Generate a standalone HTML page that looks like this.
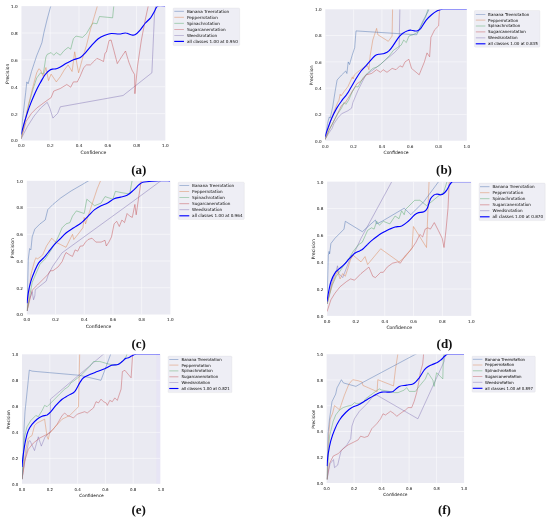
<!DOCTYPE html>
<html><head><meta charset="utf-8"><title>Precision-confidence curves</title>
<style>html,body{margin:0;padding:0;background:#fff}body{width:550px;height:521px;overflow:hidden}</style></head>
<body>
<svg width="550" height="521" viewBox="0 0 550 521" style="display:block">
<rect width="550" height="521" fill="#fff"/>
<defs>
<clipPath id="cpa"><rect x="21.45" y="6.40" width="143.90" height="134.10"/></clipPath>
<clipPath id="cga"><rect x="21.45" y="6.1" width="143.90" height="134.40"/></clipPath>
<clipPath id="cpb"><rect x="325.3" y="9.60" width="141.50" height="131.10"/></clipPath>
<clipPath id="cgb"><rect x="325.3" y="9.3" width="141.50" height="131.40"/></clipPath>
<clipPath id="cpc"><rect x="26.8" y="181.10" width="143.60" height="133.40"/></clipPath>
<clipPath id="cgc"><rect x="26.8" y="180.8" width="143.60" height="133.70"/></clipPath>
<clipPath id="cpd"><rect x="327.1" y="181.90" width="144.15" height="134.00"/></clipPath>
<clipPath id="cgd"><rect x="327.1" y="181.6" width="144.15" height="134.30"/></clipPath>
<clipPath id="cpe"><rect x="22.0" y="354.60" width="138.20" height="129.15"/></clipPath>
<clipPath id="cge"><rect x="22.0" y="354.3" width="138.20" height="129.45"/></clipPath>
<clipPath id="cpf"><rect x="326.6" y="354.50" width="137.50" height="128.50"/></clipPath>
<clipPath id="cgf"><rect x="326.6" y="354.2" width="137.50" height="128.80"/></clipPath>
</defs>
<g id="panel-a">
<rect x="21.45" y="6.1" width="143.90" height="134.40" fill="#EAEAF2"/>
<path d="M50.23 6.1V140.5M21.45 113.62H165.35M79.01 6.1V140.5M21.45 86.74H165.35M107.79 6.1V140.5M21.45 59.86H165.35M136.57 6.1V140.5M21.45 32.98H165.35" stroke="#fff" stroke-width="0.60" fill="none" opacity="0.85" clip-path="url(#cga)"/>
<g clip-path="url(#cpa)" fill="none" stroke-linejoin="round" stroke-linecap="butt">
<path d="M21.0 139.0L27.5 126.4L34.1 116.0L40.6 108.1L47.2 102.3L49.8 108.1L52.9 118.1L57.7 113.3L60.3 106.8L123.1 95.5L151.9 72.8L154.5 13.9L155.8 4.8" stroke="#8172B3" stroke-width="0.50" opacity="0.95"/>
<path d="M21.0 139.0L26.2 121.2L31.5 113.3L36.7 108.1L41.9 104.2L47.2 100.3L51.1 97.6L53.7 91.1L60.3 88.5L66.8 84.5L70.7 87.2L73.4 81.9L77.3 81.9L79.9 76.7L83.8 67.5L86.5 64.9L90.4 64.9L94.3 61.0L96.9 58.4L100.1 59.7L103.5 61.5L105.0 53.1L106.4 52.1L109.0 40.6L111.1 40.0L113.9 50.5L117.3 63.6L121.8 56.5L125.5 51.0L128.9 62.3L132.0 70.1L134.6 74.6L134.9 93.7L137.5 66.2L141.4 40.0L145.4 19.1L148.5 4.8" stroke="#C44E52" stroke-width="0.50" opacity="0.95"/>
<path d="M21.0 139.0L24.9 121.2L28.9 104.2L32.8 89.8L36.7 78.0L40.6 72.8L43.3 74.1L45.9 57.1L47.2 54.4L51.1 52.6L53.7 55.2L56.3 52.6L60.3 55.2L64.2 50.5L68.1 47.4L70.7 49.2L73.4 38.7L76.0 36.1L82.5 37.4L86.5 33.5L90.4 26.9L93.0 23.0L96.9 23.8L99.5 16.5L112.6 17.8L113.9 4.8" stroke="#55A868" stroke-width="0.50" opacity="0.95"/>
<path d="M21.0 139.0L24.9 121.2L28.9 102.9L32.8 87.2L36.7 72.8L38.8 68.8L40.6 70.1L43.3 76.7L45.9 67.5L48.5 80.6L51.1 74.1L56.3 81.9L60.3 76.7L64.2 70.1L68.1 64.9L72.1 71.5L74.7 51.8L78.6 72.8L82.5 58.4L86.5 45.3L90.4 29.6L94.3 16.5L97.7 4.8" stroke="#DD8452" stroke-width="0.50" opacity="0.95"/>
<path d="M21.0 139.0L22.3 121.2L23.6 110.7L25.7 92.4L26.8 81.9L28.1 83.8L29.4 79.3L31.5 71.5L34.1 63.6L36.7 55.7L39.9 47.9L41.9 42.7L44.0 32.2L47.2 19.1L51.1 4.8" stroke="#4C72B0" stroke-width="0.50" opacity="0.95"/>
<path d="M21.0 134.6C21.5 132.7 23.1 127.0 24.1 123.3C25.2 119.6 26.5 115.6 27.5 112.3C28.6 109.0 29.6 106.2 30.7 103.4C31.8 100.6 33.0 97.8 34.1 95.3C35.2 92.8 36.1 90.7 37.2 88.5C38.3 86.3 39.5 84.2 40.6 82.2C41.8 80.1 43.0 77.7 44.0 76.2C45.0 74.6 45.8 73.7 46.7 72.8C47.5 71.8 48.3 71.0 49.3 70.4C50.2 69.8 51.2 69.4 52.4 69.1C53.6 68.8 55.0 69.2 56.3 68.8C57.7 68.5 58.5 68.0 60.3 67.0C62.0 66.0 64.6 64.3 66.8 63.1C69.0 61.9 71.2 60.5 73.4 59.7C75.5 58.8 77.9 58.9 79.9 57.8C81.9 56.7 83.2 55.2 85.1 53.1C87.1 51.0 89.5 47.7 91.7 45.3C93.9 42.9 96.1 40.4 98.2 38.7C100.4 37.1 102.6 36.2 104.8 35.3C107.0 34.5 108.9 33.7 111.3 33.5C113.7 33.3 116.8 34.1 119.2 34.0C121.6 33.9 123.8 32.8 125.7 33.0C127.7 33.1 129.4 34.5 131.0 34.8C132.5 35.1 133.4 35.6 134.9 34.8C136.4 34.0 138.4 32.1 140.1 30.1C141.9 28.1 143.6 25.1 145.4 23.0C147.1 21.0 149.1 19.7 150.6 17.8C152.1 15.8 153.3 13.2 154.5 11.2C155.7 9.3 155.9 7.0 157.7 6.1C159.4 5.2 163.8 6.1 165.0 6.1" stroke="#0000FF" stroke-width="1.15"/>
</g>
<g font-family="'DejaVu Sans','Liberation Sans',sans-serif" font-size="4.19" fill="#262626" opacity="1" text-rendering="geometricPrecision" stroke="#262626" stroke-width="0.40">
<text transform="translate(21.45 147.44) scale(0.1)" font-size="41.9" text-anchor="middle">0.0</text>
<text transform="translate(17.65 142.40) scale(0.1)" font-size="41.9" text-anchor="end">0.0</text>
<text transform="translate(50.23 147.44) scale(0.1)" font-size="41.9" text-anchor="middle">0.2</text>
<text transform="translate(17.65 115.52) scale(0.1)" font-size="41.9" text-anchor="end">0.2</text>
<text transform="translate(79.01 147.44) scale(0.1)" font-size="41.9" text-anchor="middle">0.4</text>
<text transform="translate(17.65 88.64) scale(0.1)" font-size="41.9" text-anchor="end">0.4</text>
<text transform="translate(107.79 147.44) scale(0.1)" font-size="41.9" text-anchor="middle">0.6</text>
<text transform="translate(17.65 61.76) scale(0.1)" font-size="41.9" text-anchor="end">0.6</text>
<text transform="translate(136.57 147.44) scale(0.1)" font-size="41.9" text-anchor="middle">0.8</text>
<text transform="translate(17.65 34.88) scale(0.1)" font-size="41.9" text-anchor="end">0.8</text>
<text transform="translate(165.35 147.44) scale(0.1)" font-size="41.9" text-anchor="middle">1.0</text>
<text transform="translate(17.65 8.00) scale(0.1)" font-size="41.9" text-anchor="end">1.0</text>
<text transform="translate(93.40 154.09) scale(0.1)" font-size="45.7" text-anchor="middle">Confidence</text>
<text transform="translate(8.96 73.80) rotate(-90) scale(0.1)" font-size="45.7" text-anchor="middle">Precision</text>
</g>
<rect x="173.1" y="8.0" width="66.60" height="37.60" rx="1.00" fill="#EAEAF2" fill-opacity="0.8" stroke="#CCCCCC" stroke-opacity="0.5" stroke-width="0.38"/>
<g font-family="'DejaVu Sans','Liberation Sans',sans-serif" font-size="4.19" fill="#262626" text-rendering="geometricPrecision" stroke="#262626" stroke-width="0.40">
<path d="M174.8 11.30H183.4" stroke="#4C72B0" stroke-width="0.50" opacity="0.95" stroke-linecap="square"/>
<text transform="translate(186.90 12.80) scale(0.1)" font-size="41.9">Banana Treerotation</text>
<path d="M174.8 17.30H183.4" stroke="#DD8452" stroke-width="0.50" opacity="0.95" stroke-linecap="square"/>
<text transform="translate(186.90 18.80) scale(0.1)" font-size="41.9">Pepperrotation</text>
<path d="M174.8 23.35H183.4" stroke="#55A868" stroke-width="0.50" opacity="0.95" stroke-linecap="square"/>
<text transform="translate(186.90 24.85) scale(0.1)" font-size="41.9">Spinachrotation</text>
<path d="M174.8 29.40H183.4" stroke="#C44E52" stroke-width="0.50" opacity="0.95" stroke-linecap="square"/>
<text transform="translate(186.90 30.90) scale(0.1)" font-size="41.9">Sugarcanerotation</text>
<path d="M174.8 35.40H183.4" stroke="#8172B3" stroke-width="0.50" opacity="0.95" stroke-linecap="square"/>
<text transform="translate(186.90 36.90) scale(0.1)" font-size="41.9">Weedsrotation</text>
<path d="M174.8 41.40H183.4" stroke="#0000FF" stroke-width="1.15" stroke-linecap="square"/>
<text transform="translate(186.90 42.90) scale(0.1)" font-size="41.9">all classes 1.00 at 0.950</text>
</g>
<text x="138.8" y="174.1" text-anchor="middle" font-family="'Liberation Serif',serif" font-weight="bold" font-size="13" fill="#111">(a)</text>
</g>
<g id="panel-b">
<rect x="325.3" y="9.3" width="141.50" height="131.40" fill="#EAEAF2"/>
<path d="M353.60 9.3V140.7M325.3 114.42H466.8M381.90 9.3V140.7M325.3 88.14H466.8M410.20 9.3V140.7M325.3 61.86H466.8M438.50 9.3V140.7M325.3 35.58H466.8" stroke="#fff" stroke-width="0.59" fill="none" opacity="0.85" clip-path="url(#cgb)"/>
<g clip-path="url(#cpb)" fill="none" stroke-linejoin="round" stroke-linecap="butt">
<path d="M325.0 139.6L328.1 134.2L330.7 130.3L332.0 128.5L333.8 123.9L337.7 118.2L341.5 113.8L348.0 110.7L351.6 108.1L352.9 102.5L358.0 90.3L363.2 80.0L365.8 75.1L371.5 71.0L379.2 65.3L387.0 58.8L394.7 52.4L399.1 47.7L399.9 8.0" stroke="#8172B3" stroke-width="0.49" opacity="0.95"/>
<path d="M325.0 139.6L328.9 130.3L332.7 123.4L341.5 105.6L345.4 102.5L350.6 94.2L356.8 83.9L360.6 81.3L363.2 78.7L366.3 74.8L371.5 73.5L376.6 69.7L380.5 72.3L383.1 69.7L387.0 72.3L392.1 68.4L396.0 69.7L399.9 65.8L402.5 67.1L405.0 61.9L408.9 59.3L411.5 68.4L419.2 74.8L424.4 61.9L427.0 52.9L429.6 56.8L430.9 37.4L434.7 29.7L438.6 25.8L439.4 9.3L439.9 8.0" stroke="#C44E52" stroke-width="0.49" opacity="0.95"/>
<path d="M325.0 139.6L329.6 129.1L334.6 119.5L337.7 113.8L341.5 108.1L344.1 102.5L345.9 104.3L348.5 100.4L352.4 91.6L355.5 86.5L358.0 87.0L363.2 77.7L367.6 73.0L372.8 68.4L376.6 67.1L380.5 64.5L385.7 59.3L389.5 55.5L393.4 50.3L397.3 47.7L401.2 45.1L403.7 40.0L406.3 42.6L408.9 36.1L412.8 34.8L417.9 32.2L421.8 24.5L425.7 16.7L428.3 8.0" stroke="#55A868" stroke-width="0.49" opacity="0.95"/>
<path d="M325.0 139.6L328.9 126.5L332.7 114.9L337.7 102.5L338.9 100.4L340.2 94.2L341.0 96.0L344.1 91.6L348.0 86.5L352.4 76.9L353.1 79.0L354.2 75.1L357.3 72.3L362.4 68.4L367.6 65.8L368.9 69.7L370.2 55.5L372.8 40.0L376.6 28.4L377.9 34.8L388.3 41.3L392.1 36.1L392.6 8.0" stroke="#DD8452" stroke-width="0.49" opacity="0.95"/>
<path d="M325.0 139.6L327.6 123.4L328.9 118.2L329.4 116.9L330.2 118.2L332.7 106.9L335.1 91.6L337.1 80.0L341.5 75.1L345.7 71.0L346.9 73.5L348.2 61.9L349.5 64.5L352.1 55.5L354.7 47.7L356.0 30.9L416.7 34.8L418.5 30.9L423.1 20.6L428.3 11.1L429.3 8.0" stroke="#4C72B0" stroke-width="0.49" opacity="0.95"/>
<path d="M325.0 136.8C325.4 135.5 326.5 132.1 327.6 129.1C328.7 126.0 329.9 122.2 331.5 118.7C333.0 115.3 334.9 111.4 336.6 108.4C338.3 105.4 340.1 103.0 341.8 100.7C343.5 98.3 345.4 96.4 346.9 94.2C348.5 92.0 349.3 90.3 350.8 87.7C352.3 85.2 354.3 81.5 356.0 78.7C357.7 75.9 359.4 73.2 361.1 71.0C362.9 68.7 364.6 67.2 366.3 65.3C368.0 63.3 370.0 61.0 371.5 59.3C373.0 57.7 374.1 56.3 375.3 55.5C376.6 54.6 377.7 54.5 379.2 54.2C380.7 53.8 382.7 54.1 384.4 53.4C386.1 52.8 388.0 51.7 389.5 50.3C391.1 48.9 391.9 47.3 393.4 45.1C394.9 43.0 397.1 39.3 398.6 37.4C400.1 35.5 400.9 34.6 402.5 33.5C404.0 32.4 406.1 31.2 407.6 30.7C409.1 30.1 410.4 30.1 411.5 30.2C412.6 30.2 413.2 30.9 414.3 30.9C415.4 31.0 417.1 30.9 418.2 30.4C419.3 30.0 419.5 30.1 420.8 28.4C422.1 26.6 424.4 22.4 426.2 20.1C428.0 17.8 429.8 16.2 431.6 14.7C433.5 13.1 435.7 11.7 437.3 10.8C438.9 9.9 440.2 9.8 441.2 9.5C442.2 9.3 442.4 9.3 443.2 9.3C444.1 9.3 442.4 9.3 446.3 9.3C450.3 9.3 463.6 9.3 467.0 9.3" stroke="#0000FF" stroke-width="1.13"/>
</g>
<g font-family="'DejaVu Sans','Liberation Sans',sans-serif" font-size="4.09" fill="#262626" opacity="1" text-rendering="geometricPrecision" stroke="#262626" stroke-width="0.40">
<text transform="translate(325.30 147.82) scale(0.1)" font-size="40.9" text-anchor="middle">0.0</text>
<text transform="translate(321.57 142.57) scale(0.1)" font-size="40.9" text-anchor="end">0.0</text>
<text transform="translate(353.60 147.82) scale(0.1)" font-size="40.9" text-anchor="middle">0.2</text>
<text transform="translate(321.57 116.29) scale(0.1)" font-size="40.9" text-anchor="end">0.2</text>
<text transform="translate(381.90 147.82) scale(0.1)" font-size="40.9" text-anchor="middle">0.4</text>
<text transform="translate(321.57 90.01) scale(0.1)" font-size="40.9" text-anchor="end">0.4</text>
<text transform="translate(410.20 147.82) scale(0.1)" font-size="40.9" text-anchor="middle">0.6</text>
<text transform="translate(321.57 63.73) scale(0.1)" font-size="40.9" text-anchor="end">0.6</text>
<text transform="translate(438.50 147.82) scale(0.1)" font-size="40.9" text-anchor="middle">0.8</text>
<text transform="translate(321.57 37.45) scale(0.1)" font-size="40.9" text-anchor="end">0.8</text>
<text transform="translate(466.80 147.82) scale(0.1)" font-size="40.9" text-anchor="middle">1.0</text>
<text transform="translate(321.57 11.17) scale(0.1)" font-size="40.9" text-anchor="end">1.0</text>
<text transform="translate(396.05 154.36) scale(0.1)" font-size="44.6" text-anchor="middle">Confidence</text>
<text transform="translate(313.02 75.49) rotate(-90) scale(0.1)" font-size="44.6" text-anchor="middle">Precision</text>
</g>
<rect x="474.4" y="10.45" width="65.60" height="36.70" rx="0.98" fill="#EAEAF2" fill-opacity="0.8" stroke="#CCCCCC" stroke-opacity="0.5" stroke-width="0.37"/>
<g font-family="'DejaVu Sans','Liberation Sans',sans-serif" font-size="4.09" fill="#262626" text-rendering="geometricPrecision" stroke="#262626" stroke-width="0.40">
<path d="M476.3 14.35H484.9" stroke="#4C72B0" stroke-width="0.49" opacity="0.95" stroke-linecap="square"/>
<text transform="translate(488.10 15.82) scale(0.1)" font-size="40.9">Banana Treerotation</text>
<path d="M476.3 20.10H484.9" stroke="#DD8452" stroke-width="0.49" opacity="0.95" stroke-linecap="square"/>
<text transform="translate(488.10 21.57) scale(0.1)" font-size="40.9">Pepperrotation</text>
<path d="M476.3 26.00H484.9" stroke="#55A868" stroke-width="0.49" opacity="0.95" stroke-linecap="square"/>
<text transform="translate(488.10 27.47) scale(0.1)" font-size="40.9">Spinachrotation</text>
<path d="M476.3 31.90H484.9" stroke="#C44E52" stroke-width="0.49" opacity="0.95" stroke-linecap="square"/>
<text transform="translate(488.10 33.37) scale(0.1)" font-size="40.9">Sugarcanerotation</text>
<path d="M476.3 37.85H484.9" stroke="#8172B3" stroke-width="0.49" opacity="0.95" stroke-linecap="square"/>
<text transform="translate(488.10 39.32) scale(0.1)" font-size="40.9">Weedsrotation</text>
<path d="M476.3 43.80H484.9" stroke="#0000FF" stroke-width="1.13" stroke-linecap="square"/>
<text transform="translate(488.10 45.27) scale(0.1)" font-size="40.9">all classes 1.00 at 0.835</text>
</g>
<text x="444" y="174.1" text-anchor="middle" font-family="'Liberation Serif',serif" font-weight="bold" font-size="13" fill="#111">(b)</text>
</g>
<g id="panel-c">
<rect x="26.8" y="180.8" width="143.60" height="133.70" fill="#EAEAF2"/>
<path d="M55.52 180.8V314.5M26.8 287.76H170.4M84.24 180.8V314.5M26.8 261.02H170.4M112.96 180.8V314.5M26.8 234.28H170.4M141.68 180.8V314.5M26.8 207.54H170.4" stroke="#fff" stroke-width="0.60" fill="none" opacity="0.85" clip-path="url(#cgc)"/>
<g clip-path="url(#cpc)" fill="none" stroke-linejoin="round" stroke-linecap="butt">
<path d="M27.0 311.0L29.1 300.6L32.2 291.5L33.5 299.8L34.8 295.9L35.3 289.7L46.2 281.1L48.3 274.6L52.7 266.3L62.1 252.8L133.1 201.3L160.9 180.8L162.2 179.5" stroke="#8172B3" stroke-width="0.50" opacity="0.95"/>
<path d="M27.0 311.0L32.2 290.2L37.4 285.0L42.6 279.8L47.8 274.6L50.4 270.7L53.0 270.7L58.2 266.8L62.1 261.6L64.7 255.1L66.0 252.5L69.9 255.1L72.5 256.4L75.1 249.9L77.7 251.2L80.3 246.0L82.9 246.0L85.5 242.1L88.1 239.5L92.0 238.2L95.9 242.1L101.1 242.1L105.0 240.3L106.3 246.0L108.9 242.1L111.5 236.9L114.1 223.9L116.7 221.3L119.3 226.5L121.9 220.0L124.5 222.6L127.1 213.5L129.7 216.1L132.3 217.4L134.9 204.4L136.2 214.8L138.8 196.6L141.4 179.5" stroke="#C44E52" stroke-width="0.50" opacity="0.95"/>
<path d="M27.0 311.0L32.2 282.4L36.1 273.3L40.0 264.2L45.2 259.0L50.4 251.2L54.3 244.7L58.2 236.9L62.1 227.8L66.0 223.9L69.9 222.6L72.5 216.1L76.4 210.9L84.2 213.5L86.8 199.2L94.6 205.7L101.1 203.1L105.0 196.6L108.9 197.9L112.8 199.2L115.4 191.4L121.9 192.7L129.7 194.0L132.3 179.5" stroke="#55A868" stroke-width="0.50" opacity="0.95"/>
<path d="M27.0 311.0L30.9 274.6L34.8 260.3L36.1 257.7L37.4 259.0L42.6 255.1L46.5 246.0L49.1 242.1L51.7 238.2L55.6 242.1L60.8 244.7L66.0 247.3L69.9 239.5L72.5 234.3L73.8 239.5L79.0 233.0L82.9 227.8L84.2 217.4L85.5 223.9L89.4 212.2L93.3 200.5L97.2 188.8L101.1 179.5" stroke="#DD8452" stroke-width="0.50" opacity="0.95"/>
<path d="M27.0 311.0L28.3 259.0L29.6 248.6L30.9 249.9L32.2 236.9L34.8 229.1L40.0 223.9L45.2 220.0L47.8 209.6L53.0 204.4L60.8 197.9L71.2 190.9L81.6 184.9L90.7 179.5" stroke="#4C72B0" stroke-width="0.50" opacity="0.95"/>
<path d="M27.0 303.2C27.2 301.5 27.7 296.5 28.3 292.8C28.9 289.1 29.8 284.8 30.9 281.1C32.0 277.4 33.5 273.7 34.8 270.7C36.1 267.7 37.2 265.1 38.7 262.9C40.2 260.7 42.2 259.6 43.9 257.7C45.6 255.8 47.4 253.4 49.1 251.2C50.8 249.0 52.6 246.6 54.3 244.7C56.0 242.8 57.5 241.4 59.5 239.5C61.5 237.6 63.6 234.9 66.0 233.0C68.4 231.1 71.2 229.5 73.8 227.8C76.4 226.1 79.2 224.6 81.6 222.6C84.0 220.6 85.9 218.3 88.1 216.1C90.3 213.9 92.4 211.3 94.6 209.6C96.8 207.9 98.9 206.8 101.1 205.7C103.3 204.6 105.4 204.3 107.6 203.1C109.8 201.9 111.9 199.7 114.1 198.7C116.3 197.7 118.4 197.7 120.6 197.1C122.8 196.6 124.9 196.5 127.1 195.3C129.3 194.1 131.6 191.8 133.6 190.1C135.6 188.4 137.3 186.2 138.8 184.9C140.3 183.6 141.0 182.9 142.7 182.3C144.4 181.7 146.4 181.8 149.2 181.5C152.0 181.3 156.1 180.9 159.6 180.8C163.1 180.7 168.3 180.8 170.0 180.8" stroke="#0000FF" stroke-width="1.15"/>
</g>
<g font-family="'DejaVu Sans','Liberation Sans',sans-serif" font-size="4.15" fill="#262626" opacity="1" text-rendering="geometricPrecision" stroke="#262626" stroke-width="0.40">
<text transform="translate(26.80 321.28) scale(0.1)" font-size="41.5" text-anchor="middle">0.0</text>
<text transform="translate(23.01 316.39) scale(0.1)" font-size="41.5" text-anchor="end">0.0</text>
<text transform="translate(55.52 321.28) scale(0.1)" font-size="41.5" text-anchor="middle">0.2</text>
<text transform="translate(23.01 289.65) scale(0.1)" font-size="41.5" text-anchor="end">0.2</text>
<text transform="translate(84.24 321.28) scale(0.1)" font-size="41.5" text-anchor="middle">0.4</text>
<text transform="translate(23.01 262.91) scale(0.1)" font-size="41.5" text-anchor="end">0.4</text>
<text transform="translate(112.96 321.28) scale(0.1)" font-size="41.5" text-anchor="middle">0.6</text>
<text transform="translate(23.01 236.17) scale(0.1)" font-size="41.5" text-anchor="end">0.6</text>
<text transform="translate(141.68 321.28) scale(0.1)" font-size="41.5" text-anchor="middle">0.8</text>
<text transform="translate(23.01 209.43) scale(0.1)" font-size="41.5" text-anchor="end">0.8</text>
<text transform="translate(170.40 321.28) scale(0.1)" font-size="41.5" text-anchor="middle">1.0</text>
<text transform="translate(23.01 182.69) scale(0.1)" font-size="41.5" text-anchor="end">1.0</text>
<text transform="translate(98.60 327.86) scale(0.1)" font-size="45.3" text-anchor="middle">Confidence</text>
<text transform="translate(14.33 248.15) rotate(-90) scale(0.1)" font-size="45.3" text-anchor="middle">Precision</text>
</g>
<rect x="178.1" y="182.2" width="66.20" height="37.30" rx="1.00" fill="#EAEAF2" fill-opacity="0.8" stroke="#CCCCCC" stroke-opacity="0.5" stroke-width="0.38"/>
<g font-family="'DejaVu Sans','Liberation Sans',sans-serif" font-size="4.15" fill="#262626" text-rendering="geometricPrecision" stroke="#262626" stroke-width="0.40">
<path d="M179.9 185.60H188.7" stroke="#4C72B0" stroke-width="0.50" opacity="0.95" stroke-linecap="square"/>
<text transform="translate(192.10 187.10) scale(0.1)" font-size="41.5">Banana Treerotation</text>
<path d="M179.9 191.55H188.7" stroke="#DD8452" stroke-width="0.50" opacity="0.95" stroke-linecap="square"/>
<text transform="translate(192.10 193.05) scale(0.1)" font-size="41.5">Pepperrotation</text>
<path d="M179.9 197.60H188.7" stroke="#55A868" stroke-width="0.50" opacity="0.95" stroke-linecap="square"/>
<text transform="translate(192.10 199.10) scale(0.1)" font-size="41.5">Spinachrotation</text>
<path d="M179.9 203.70H188.7" stroke="#C44E52" stroke-width="0.50" opacity="0.95" stroke-linecap="square"/>
<text transform="translate(192.10 205.20) scale(0.1)" font-size="41.5">Sugarcanerotation</text>
<path d="M179.9 209.70H188.7" stroke="#8172B3" stroke-width="0.50" opacity="0.95" stroke-linecap="square"/>
<text transform="translate(192.10 211.20) scale(0.1)" font-size="41.5">Weedsrotation</text>
<path d="M179.9 215.80H188.7" stroke="#0000FF" stroke-width="1.15" stroke-linecap="square"/>
<text transform="translate(192.10 217.30) scale(0.1)" font-size="41.5">all classes 1.00 at 0.964</text>
</g>
<text x="138.6" y="348.4" text-anchor="middle" font-family="'Liberation Serif',serif" font-weight="bold" font-size="13" fill="#111">(c)</text>
</g>
<g id="panel-d">
<rect x="327.1" y="181.6" width="144.15" height="134.30" fill="#EAEAF2"/>
<path d="M355.93 181.6V315.9M327.1 289.04H471.25M384.76 181.6V315.9M327.1 262.18H471.25M413.59 181.6V315.9M327.1 235.32H471.25M442.42 181.6V315.9M327.1 208.46H471.25" stroke="#fff" stroke-width="0.60" fill="none" opacity="0.85" clip-path="url(#cgd)"/>
<g clip-path="url(#cpd)" fill="none" stroke-linejoin="round" stroke-linecap="butt">
<path d="M327.0 304.0L332.2 281.5L336.2 271.0L337.5 265.8L338.8 273.6L342.7 277.6L345.3 271.0L349.3 260.5L353.2 255.3L361.0 238.3L392.5 180.3" stroke="#8172B3" stroke-width="0.50" opacity="0.95"/>
<path d="M327.0 311.6L330.9 299.8L334.9 293.3L340.1 286.7L346.6 281.5L350.6 278.9L354.5 280.2L361.0 273.6L368.9 267.1L372.8 276.3L375.4 277.6L380.7 272.3L383.3 272.3L387.2 267.1L392.5 263.2L397.7 261.9L400.3 263.2L405.5 255.3L410.8 250.1L416.0 242.2L419.9 234.4L422.6 237.0L425.2 229.1L427.8 227.8L430.4 229.1L434.3 222.6L438.3 230.4L442.2 238.3L444.0 247.5L446.1 229.1L448.0 208.2L449.3 180.3" stroke="#C44E52" stroke-width="0.50" opacity="0.95"/>
<path d="M327.0 304.0L332.2 285.4L336.2 276.3L340.1 271.0L345.3 263.2L349.3 257.9L353.2 251.4L358.4 244.8L362.3 242.2L367.6 230.4L371.5 227.8L374.1 229.1L376.7 221.3L379.4 225.2L383.3 221.3L389.8 223.9L395.1 216.0L399.0 218.7L401.6 210.8L404.2 214.7L405.5 209.5L414.7 200.3L419.9 200.3L426.5 205.6L431.7 201.6L439.6 195.1L443.5 192.5L446.1 184.6L447.4 180.3" stroke="#55A868" stroke-width="0.50" opacity="0.95"/>
<path d="M327.0 304.0L332.2 284.1L337.5 271.0L340.1 278.9L342.7 273.6L345.3 276.3L347.9 268.4L350.6 259.2L353.2 255.3L361.0 261.9L365.0 256.6L367.6 264.5L380.7 248.8L399.0 261.9L405.5 256.6L412.1 247.5L413.4 226.5L426.5 247.5L427.8 213.4L429.1 180.3" stroke="#DD8452" stroke-width="0.50" opacity="0.95"/>
<path d="M327.0 304.0L328.3 255.3L329.1 251.4L329.6 254.0L330.9 243.5L334.9 238.3L340.1 233.1L344.0 229.1L345.3 221.3L362.3 231.7L375.4 220.0L376.7 223.9L382.0 221.3L404.2 208.2L410.8 214.7L423.9 201.6L439.6 180.3" stroke="#4C72B0" stroke-width="0.50" opacity="0.95"/>
<path d="M327.0 301.4C327.2 300.1 327.7 296.8 328.3 293.5C329.0 290.3 329.8 285.2 330.9 281.8C332.0 278.3 333.5 275.2 334.9 273.1C336.2 271.0 337.3 270.6 338.8 269.2C340.3 267.8 342.3 266.5 344.0 264.7C345.8 263.0 347.5 260.6 349.3 258.7C351.0 256.8 352.7 254.8 354.5 253.5C356.2 252.2 358.3 251.6 359.7 250.9C361.1 250.1 361.6 250.1 362.9 249.0C364.2 247.9 365.9 245.9 367.6 244.3C369.2 242.7 370.9 241.1 372.8 239.6C374.7 238.1 376.9 236.5 378.8 235.1C380.8 233.8 382.8 232.7 384.6 231.7C386.4 230.7 388.1 229.9 389.8 229.1C391.6 228.3 393.1 227.6 395.1 227.0C397.0 226.5 399.4 226.9 401.6 226.0C403.8 225.0 406.0 223.1 408.2 221.3C410.3 219.4 413.0 216.2 414.7 214.7C416.5 213.3 417.1 213.1 418.6 212.6C420.2 212.2 422.4 212.6 423.9 211.8C425.3 211.1 426.2 210.3 427.3 208.2C428.4 206.0 429.3 201.2 430.4 199.0C431.5 196.8 432.7 195.9 433.8 195.1C434.9 194.3 435.8 194.1 437.0 194.0C438.1 194.0 439.7 195.0 440.9 194.8C442.1 194.7 443.3 193.8 444.3 193.0C445.3 192.2 446.0 191.2 446.9 189.9C447.8 188.5 448.8 186.4 449.5 185.1C450.3 183.9 450.8 183.1 451.4 182.5C451.9 181.9 452.0 181.8 452.7 181.6C453.3 181.4 452.2 181.6 455.3 181.6C458.3 181.6 468.4 181.6 471.0 181.6" stroke="#0000FF" stroke-width="1.15"/>
</g>
<g font-family="'DejaVu Sans','Liberation Sans',sans-serif" font-size="4.17" fill="#262626" opacity="1" text-rendering="geometricPrecision" stroke="#262626" stroke-width="0.40">
<text transform="translate(327.10 323.01) scale(0.1)" font-size="41.7" text-anchor="middle">0.0</text>
<text transform="translate(323.30 317.80) scale(0.1)" font-size="41.7" text-anchor="end">0.0</text>
<text transform="translate(355.93 323.01) scale(0.1)" font-size="41.7" text-anchor="middle">0.2</text>
<text transform="translate(323.30 290.94) scale(0.1)" font-size="41.7" text-anchor="end">0.2</text>
<text transform="translate(384.76 323.01) scale(0.1)" font-size="41.7" text-anchor="middle">0.4</text>
<text transform="translate(323.30 264.08) scale(0.1)" font-size="41.7" text-anchor="end">0.4</text>
<text transform="translate(413.59 323.01) scale(0.1)" font-size="41.7" text-anchor="middle">0.6</text>
<text transform="translate(323.30 237.22) scale(0.1)" font-size="41.7" text-anchor="end">0.6</text>
<text transform="translate(442.42 323.01) scale(0.1)" font-size="41.7" text-anchor="middle">0.8</text>
<text transform="translate(323.30 210.36) scale(0.1)" font-size="41.7" text-anchor="end">0.8</text>
<text transform="translate(471.25 323.01) scale(0.1)" font-size="41.7" text-anchor="middle">1.0</text>
<text transform="translate(323.30 183.50) scale(0.1)" font-size="41.7" text-anchor="end">1.0</text>
<text transform="translate(399.18 328.96) scale(0.1)" font-size="45.5" text-anchor="middle">Confidence</text>
<text transform="translate(314.59 249.25) rotate(-90) scale(0.1)" font-size="45.5" text-anchor="middle">Precision</text>
</g>
<rect x="479" y="183.1" width="66.20" height="37.50" rx="1.00" fill="#EAEAF2" fill-opacity="0.8" stroke="#CCCCCC" stroke-opacity="0.5" stroke-width="0.38"/>
<g font-family="'DejaVu Sans','Liberation Sans',sans-serif" font-size="4.17" fill="#262626" text-rendering="geometricPrecision" stroke="#262626" stroke-width="0.40">
<path d="M480.5 186.70H489" stroke="#4C72B0" stroke-width="0.50" opacity="0.95" stroke-linecap="square"/>
<text transform="translate(492.50 188.20) scale(0.1)" font-size="41.7">Banana Treerotation</text>
<path d="M480.5 192.70H489" stroke="#DD8452" stroke-width="0.50" opacity="0.95" stroke-linecap="square"/>
<text transform="translate(492.50 194.20) scale(0.1)" font-size="41.7">Pepperrotation</text>
<path d="M480.5 198.70H489" stroke="#55A868" stroke-width="0.50" opacity="0.95" stroke-linecap="square"/>
<text transform="translate(492.50 200.20) scale(0.1)" font-size="41.7">Spinachrotation</text>
<path d="M480.5 204.80H489" stroke="#C44E52" stroke-width="0.50" opacity="0.95" stroke-linecap="square"/>
<text transform="translate(492.50 206.30) scale(0.1)" font-size="41.7">Sugarcanerotation</text>
<path d="M480.5 210.70H489" stroke="#8172B3" stroke-width="0.50" opacity="0.95" stroke-linecap="square"/>
<text transform="translate(492.50 212.20) scale(0.1)" font-size="41.7">Weedsrotation</text>
<path d="M480.5 216.80H489" stroke="#0000FF" stroke-width="1.15" stroke-linecap="square"/>
<text transform="translate(492.50 218.30) scale(0.1)" font-size="41.7">all classes 1.00 at 0.870</text>
</g>
<text x="444.5" y="348.4" text-anchor="middle" font-family="'Liberation Serif',serif" font-weight="bold" font-size="13" fill="#111">(d)</text>
</g>
<g id="panel-e">
<rect x="22.0" y="354.3" width="138.20" height="129.45" fill="#EAEAF2"/>
<rect x="156.30" y="354.3" width="3.9" height="129.45" fill="#E6E4F5" opacity="0.8"/>
<path d="M49.80 354.3V484.4M22.0 458.38H161.0M77.60 354.3V484.4M22.0 432.36H161.0M105.40 354.3V484.4M22.0 406.34H161.0M133.20 354.3V484.4M22.0 380.32H161.0" stroke="#fff" stroke-width="0.58" fill="none" opacity="0.85" clip-path="url(#cge)"/>
<g clip-path="url(#cpe)" fill="none" stroke-linejoin="round" stroke-linecap="butt">
<path d="M22.0 479.2L25.8 455.6L28.8 441.3L30.0 440.6L34.5 450.6L38.3 436.8L41.3 446.1L45.1 436.8L48.3 433.8L50.1 433.0L50.4 399.2L53.4 396.7L104.8 353.0" stroke="#8172B3" stroke-width="0.48" opacity="0.95"/>
<path d="M22.0 479.2L24.5 461.9L28.3 449.3L33.3 443.1L39.6 438.1L47.1 434.3L52.1 430.5L57.1 424.3L62.1 415.5L64.7 413.0L67.2 415.5L70.9 416.7L73.4 418.0L77.2 414.2L84.7 411.7L87.2 413.0L93.5 407.9L96.0 401.7L98.5 402.9L101.0 399.2L103.5 401.7L106.1 402.9L107.3 405.4L109.8 400.4L112.3 401.7L114.8 397.9L117.3 400.4L121.1 389.1L122.4 371.6L124.9 370.3L131.1 377.8L132.4 357.8L132.4 353.0" stroke="#C44E52" stroke-width="0.48" opacity="0.95"/>
<path d="M22.0 479.2L24.5 436.8L27.0 426.8L30.8 420.5L35.8 415.5L38.3 416.7L42.1 410.5L44.6 405.4L47.1 406.7L50.9 402.9L54.6 399.2L59.6 394.1L64.7 389.1L68.4 386.6L70.9 382.9L74.7 380.3L81.0 375.3L84.7 371.6L89.7 366.5L93.5 361.5L99.8 361.5L108.6 364.0L116.1 365.3L122.4 361.5L126.1 356.5L127.4 353.0" stroke="#55A868" stroke-width="0.48" opacity="0.95"/>
<path d="M22.0 479.2L25.8 449.3L28.3 438.1L32.0 435.5L34.5 425.5L37.1 423.0L44.6 419.2L47.1 436.8L48.3 439.3L49.6 433.0L62.1 419.2L69.7 415.5L78.5 406.7L79.7 353.0" stroke="#DD8452" stroke-width="0.48" opacity="0.95"/>
<path d="M22.0 479.2L23.0 464.4L24.0 429.3L25.0 411.7L27.8 384.9L29.3 370.1L32.0 371.1L37.1 371.6L79.7 375.3L101.0 380.3L111.1 353.0" stroke="#4C72B0" stroke-width="0.48" opacity="0.95"/>
<path d="M22.0 466.9C22.2 464.8 22.6 459.0 23.3 454.4C23.9 449.8 24.9 443.3 25.8 439.3C26.6 435.3 27.2 433.0 28.3 430.5C29.3 428.0 30.6 426.1 32.0 424.3C33.5 422.4 35.4 420.6 37.1 419.2C38.7 417.9 40.4 416.9 42.1 416.2C43.7 415.5 45.6 415.7 47.1 415.0C48.6 414.2 49.4 413.3 50.9 411.7C52.3 410.1 54.0 407.5 55.9 405.4C57.8 403.3 60.1 400.8 62.1 399.2C64.2 397.5 66.3 396.7 68.4 395.4C70.5 394.1 72.8 393.7 74.7 391.6C76.6 389.5 78.2 385.2 79.7 382.9C81.2 380.6 81.8 379.2 83.5 377.8C85.1 376.5 87.4 375.6 89.7 374.6C92.0 373.5 94.7 372.6 97.3 371.6C99.8 370.6 102.7 369.6 105.1 368.6C107.4 367.5 109.4 366.0 111.6 365.3C113.7 364.6 116.3 365.2 118.1 364.5C119.9 363.9 121.1 362.3 122.4 361.3C123.6 360.3 124.6 359.1 125.6 358.5C126.6 357.9 127.4 358.2 128.4 357.8C129.4 357.3 130.6 356.5 131.6 356.0C132.7 355.5 133.7 354.9 134.4 354.6C135.2 354.3 135.5 354.4 136.2 354.3C136.9 354.2 134.7 354.3 138.7 354.3C142.6 354.3 156.4 354.3 160.0 354.3" stroke="#0000FF" stroke-width="1.11"/>
</g>
<g font-family="'DejaVu Sans','Liberation Sans',sans-serif" font-size="3.98" fill="#262626" opacity="1" text-rendering="geometricPrecision" stroke="#262626" stroke-width="0.40">
<text transform="translate(22.00 491.40) scale(0.1)" font-size="39.8" text-anchor="middle">0.0</text>
<text transform="translate(18.33 486.23) scale(0.1)" font-size="39.8" text-anchor="end">0.0</text>
<text transform="translate(49.80 491.40) scale(0.1)" font-size="39.8" text-anchor="middle">0.2</text>
<text transform="translate(18.33 460.21) scale(0.1)" font-size="39.8" text-anchor="end">0.2</text>
<text transform="translate(77.60 491.40) scale(0.1)" font-size="39.8" text-anchor="middle">0.4</text>
<text transform="translate(18.33 434.19) scale(0.1)" font-size="39.8" text-anchor="end">0.4</text>
<text transform="translate(105.40 491.40) scale(0.1)" font-size="39.8" text-anchor="middle">0.6</text>
<text transform="translate(18.33 408.17) scale(0.1)" font-size="39.8" text-anchor="end">0.6</text>
<text transform="translate(133.20 491.40) scale(0.1)" font-size="39.8" text-anchor="middle">0.8</text>
<text transform="translate(18.33 382.15) scale(0.1)" font-size="39.8" text-anchor="end">0.8</text>
<text transform="translate(161.00 491.40) scale(0.1)" font-size="39.8" text-anchor="middle">1.0</text>
<text transform="translate(18.33 356.13) scale(0.1)" font-size="39.8" text-anchor="end">1.0</text>
<text transform="translate(91.50 496.97) scale(0.1)" font-size="43.4" text-anchor="middle">Confidence</text>
<text transform="translate(9.93 419.83) rotate(-90) scale(0.1)" font-size="43.4" text-anchor="middle">Precision</text>
</g>
<rect x="168" y="356.1" width="64.00" height="36.50" rx="0.97" fill="#EAEAF2" fill-opacity="0.8" stroke="#CCCCCC" stroke-opacity="0.5" stroke-width="0.37"/>
<g font-family="'DejaVu Sans','Liberation Sans',sans-serif" font-size="3.98" fill="#262626" text-rendering="geometricPrecision" stroke="#262626" stroke-width="0.40">
<path d="M169.8 359.50H177.9" stroke="#4C72B0" stroke-width="0.48" opacity="0.95" stroke-linecap="square"/>
<text transform="translate(181.40 360.95) scale(0.1)" font-size="39.8">Banana Treerotation</text>
<path d="M169.8 365.10H177.9" stroke="#DD8452" stroke-width="0.48" opacity="0.95" stroke-linecap="square"/>
<text transform="translate(181.40 366.55) scale(0.1)" font-size="39.8">Pepperrotation</text>
<path d="M169.8 370.90H177.9" stroke="#55A868" stroke-width="0.48" opacity="0.95" stroke-linecap="square"/>
<text transform="translate(181.40 372.35) scale(0.1)" font-size="39.8">Spinachrotation</text>
<path d="M169.8 376.80H177.9" stroke="#C44E52" stroke-width="0.48" opacity="0.95" stroke-linecap="square"/>
<text transform="translate(181.40 378.25) scale(0.1)" font-size="39.8">Sugarcanerotation</text>
<path d="M169.8 382.60H177.9" stroke="#8172B3" stroke-width="0.48" opacity="0.95" stroke-linecap="square"/>
<text transform="translate(181.40 384.05) scale(0.1)" font-size="39.8">Weedsrotation</text>
<path d="M169.8 388.50H177.9" stroke="#0000FF" stroke-width="1.11" stroke-linecap="square"/>
<text transform="translate(181.40 389.95) scale(0.1)" font-size="39.8">all classes 1.00 at 0.821</text>
</g>
<text x="138.6" y="514.4" text-anchor="middle" font-family="'Liberation Serif',serif" font-weight="bold" font-size="13" fill="#111">(e)</text>
</g>
<g id="panel-f">
<rect x="326.6" y="354.2" width="137.50" height="128.80" fill="#EAEAF2"/>
<path d="M354.10 354.2V483.0M326.6 457.24H464.1M381.60 354.2V483.0M326.6 431.48H464.1M409.10 354.2V483.0M326.6 405.72H464.1M436.60 354.2V483.0M326.6 379.96H464.1" stroke="#fff" stroke-width="0.57" fill="none" opacity="0.85" clip-path="url(#cgf)"/>
<g clip-path="url(#cpf)" fill="none" stroke-linejoin="round" stroke-linecap="butt">
<path d="M327.0 479.5L330.0 463.8L333.5 459.6L334.5 467.6L337.7 465.1L339.7 456.4L341.2 450.6L346.9 444.9L350.7 438.7L351.9 426.2L354.4 418.8L359.4 411.3L366.9 403.8L373.1 396.3L376.8 395.1L417.9 418.8L444.1 361.5L445.3 353.0" stroke="#8172B3" stroke-width="0.48" opacity="0.95"/>
<path d="M327.0 479.5L329.5 463.6L333.2 456.1L338.2 453.6L343.2 448.7L348.2 444.9L353.2 442.4L358.1 439.9L360.6 436.2L364.4 437.4L368.1 436.2L371.8 428.7L376.8 423.7L380.6 418.8L383.0 413.8L385.5 415.0L390.5 411.3L394.3 413.8L396.7 416.3L401.7 412.5L405.5 410.0L408.0 407.6L411.7 407.6L414.2 401.3L416.7 392.6L418.7 382.6L420.4 372.2L422.7 364.0L423.4 356.5L423.6 353.0" stroke="#C44E52" stroke-width="0.48" opacity="0.95"/>
<path d="M327.0 479.5L329.5 436.2L333.2 421.3L335.7 415.0L339.5 410.0L343.2 407.6L346.9 406.3L351.9 405.1L354.4 402.6L356.9 403.8L363.1 402.6L365.6 398.8L370.6 395.1L375.6 391.4L379.3 388.9L381.8 390.1L389.3 391.4L394.3 392.6L398.0 392.6L404.2 390.1L406.7 387.6L409.2 391.4L415.4 391.4L419.2 386.4L425.4 378.9L427.9 372.7L432.9 380.2L434.1 386.4L436.6 372.7L442.8 378.9L443.3 359.0L444.1 353.0" stroke="#55A868" stroke-width="0.48" opacity="0.95"/>
<path d="M327.0 479.5L328.5 436.2L330.2 419.0L332.7 413.0L334.5 405.6L339.5 409.8L341.9 402.6L344.4 395.3L348.9 384.1L352.7 379.7L358.1 380.7L362.1 382.1L362.9 385.4L377.1 391.6L377.8 379.7L393.5 385.9L395.5 368.9L398.0 353.0" stroke="#DD8452" stroke-width="0.48" opacity="0.95"/>
<path d="M327.0 479.5L328.0 433.7L329.5 419.0L332.0 401.6L335.7 394.1L337.0 387.9L341.4 379.7L343.4 382.9L355.9 386.4L363.4 382.1L396.0 364.7L417.9 353.0" stroke="#4C72B0" stroke-width="0.48" opacity="0.95"/>
<path d="M327.0 466.1C327.2 464.0 327.6 457.8 328.2 453.6C328.9 449.5 329.7 445.1 330.7 441.2C331.8 437.2 333.0 433.5 334.5 430.0C335.9 426.4 337.6 422.9 339.5 420.0C341.3 417.1 343.6 414.6 345.7 412.5C347.8 410.5 349.8 408.8 351.9 407.6C354.0 406.3 356.1 406.1 358.1 405.1C360.2 404.0 362.3 402.6 364.4 401.3C366.4 400.1 368.5 398.8 370.6 397.6C372.7 396.3 374.9 394.8 376.8 393.9C378.7 392.9 379.9 392.4 381.8 392.1C383.7 391.8 386.2 392.2 388.0 392.1C389.9 392.0 391.1 392.3 393.0 391.4C394.9 390.4 397.0 387.4 399.2 386.4C401.5 385.3 404.4 385.6 406.7 385.1C409.0 384.7 411.4 384.5 412.9 383.9C414.5 383.3 415.1 382.4 416.2 381.4C417.2 380.4 417.8 379.8 419.2 377.9C420.5 376.0 422.8 372.0 424.1 370.2C425.5 368.4 426.1 367.9 427.4 367.0C428.7 366.0 430.2 365.5 431.9 364.7C433.5 364.0 435.8 363.3 437.3 362.5C438.9 361.6 440.0 360.6 441.1 359.7C442.2 358.8 443.0 357.8 443.8 357.0C444.7 356.2 445.6 355.2 446.3 354.7C447.0 354.3 447.4 354.3 448.1 354.2C448.7 354.1 447.6 354.2 450.3 354.2C453.0 354.2 461.7 354.2 464.0 354.2" stroke="#0000FF" stroke-width="1.10"/>
</g>
<g font-family="'DejaVu Sans','Liberation Sans',sans-serif" font-size="3.95" fill="#262626" opacity="1" text-rendering="geometricPrecision" stroke="#262626" stroke-width="0.40">
<text transform="translate(326.60 489.62) scale(0.1)" font-size="39.5" text-anchor="middle">0.0</text>
<text transform="translate(322.97 484.81) scale(0.1)" font-size="39.5" text-anchor="end">0.0</text>
<text transform="translate(354.10 489.62) scale(0.1)" font-size="39.5" text-anchor="middle">0.2</text>
<text transform="translate(322.97 459.05) scale(0.1)" font-size="39.5" text-anchor="end">0.2</text>
<text transform="translate(381.60 489.62) scale(0.1)" font-size="39.5" text-anchor="middle">0.4</text>
<text transform="translate(322.97 433.29) scale(0.1)" font-size="39.5" text-anchor="end">0.4</text>
<text transform="translate(409.10 489.62) scale(0.1)" font-size="39.5" text-anchor="middle">0.6</text>
<text transform="translate(322.97 407.53) scale(0.1)" font-size="39.5" text-anchor="end">0.6</text>
<text transform="translate(436.60 489.62) scale(0.1)" font-size="39.5" text-anchor="middle">0.8</text>
<text transform="translate(322.97 381.77) scale(0.1)" font-size="39.5" text-anchor="end">0.8</text>
<text transform="translate(464.10 489.62) scale(0.1)" font-size="39.5" text-anchor="middle">1.0</text>
<text transform="translate(322.97 356.01) scale(0.1)" font-size="39.5" text-anchor="end">1.0</text>
<text transform="translate(395.35 495.97) scale(0.1)" font-size="43.1" text-anchor="middle">Confidence</text>
<text transform="translate(314.66 419.08) rotate(-90) scale(0.1)" font-size="43.1" text-anchor="middle">Precision</text>
</g>
<rect x="472" y="356.1" width="63.30" height="36.10" rx="0.95" fill="#EAEAF2" fill-opacity="0.8" stroke="#CCCCCC" stroke-opacity="0.5" stroke-width="0.36"/>
<g font-family="'DejaVu Sans','Liberation Sans',sans-serif" font-size="3.95" fill="#262626" text-rendering="geometricPrecision" stroke="#262626" stroke-width="0.40">
<path d="M473.3 359.30H481.9" stroke="#4C72B0" stroke-width="0.48" opacity="0.95" stroke-linecap="square"/>
<text transform="translate(485.10 360.73) scale(0.1)" font-size="39.5">Banana Treerotation</text>
<path d="M473.3 365.00H481.9" stroke="#DD8452" stroke-width="0.48" opacity="0.95" stroke-linecap="square"/>
<text transform="translate(485.10 366.43) scale(0.1)" font-size="39.5">Pepperrotation</text>
<path d="M473.3 370.80H481.9" stroke="#55A868" stroke-width="0.48" opacity="0.95" stroke-linecap="square"/>
<text transform="translate(485.10 372.23) scale(0.1)" font-size="39.5">Spinachrotation</text>
<path d="M473.3 376.60H481.9" stroke="#C44E52" stroke-width="0.48" opacity="0.95" stroke-linecap="square"/>
<text transform="translate(485.10 378.03) scale(0.1)" font-size="39.5">Sugarcanerotation</text>
<path d="M473.3 382.30H481.9" stroke="#8172B3" stroke-width="0.48" opacity="0.95" stroke-linecap="square"/>
<text transform="translate(485.10 383.73) scale(0.1)" font-size="39.5">Weedsrotation</text>
<path d="M473.3 388.30H481.9" stroke="#0000FF" stroke-width="1.10" stroke-linecap="square"/>
<text transform="translate(485.10 389.73) scale(0.1)" font-size="39.5">all classes 1.00 at 0.897</text>
</g>
<text x="444.4" y="514.4" text-anchor="middle" font-family="'Liberation Serif',serif" font-weight="bold" font-size="13" fill="#111">(f)</text>
</g>
</svg>
</body></html>
